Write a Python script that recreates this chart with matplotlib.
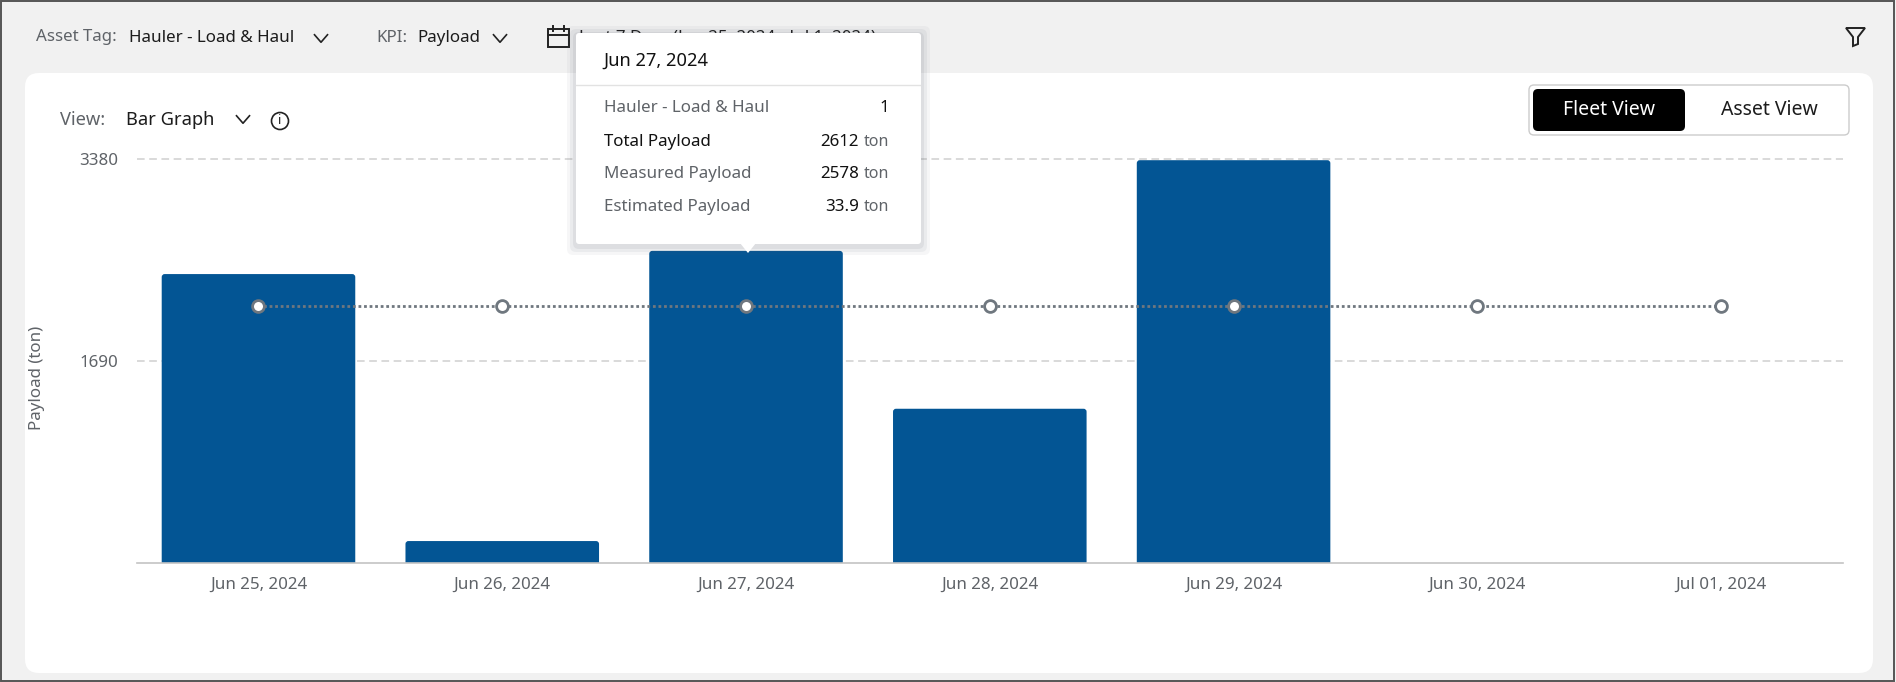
#!/usr/bin/env python3

import matplotlib
matplotlib.use('Agg')
import matplotlib.pyplot as plt
from matplotlib.patches import FancyBboxPatch, Rectangle, Circle, Polygon, PathPatch
from matplotlib.path import Path

W, H = 1896, 682

dates = ['Jun 25, 2024', 'Jun 26, 2024', 'Jun 27, 2024', 'Jun 28, 2024',
         'Jun 29, 2024', 'Jun 30, 2024', 'Jul 01, 2024']
payload = [2418, 186, 2612, 1292, 3370, 0, 0]
average = [2150, 2150, 2150, 2150, 2150, 2150, 2150]
y_ticks = [1690, 3380]

tip_title = 'Jun 27, 2024'
tip_labels = ['Hauler - Load & Haul', 'Total Payload', 'Measured Payload', 'Estimated Payload']
tip_values = ['1', '2612', '2578', '33.9']
tip_units = ['', 'ton', 'ton', 'ton']

plt.rcParams['font.family'] = ['Noto Sans', 'DejaVu Sans']

GREY = '#5f6368'
DARK = '#1c1c1c'
BLUE = '#035594'

fig = plt.figure(figsize=(W / 100, H / 100), dpi=100, facecolor='#f1f1f1')


def pixel_axes(z):
    a = fig.add_axes([0, 0, 1, 1], zorder=z)
    a.set_xlim(0, W)
    a.set_ylim(H, 0)
    a.axis('off')
    a.patch.set_alpha(0)
    return a


def rbox(a, x0, y0, x1, y1, r, **kw):
    a.add_patch(FancyBboxPatch((x0 + r, y0 + r), x1 - x0 - 2 * r, y1 - y0 - 2 * r,
                               boxstyle='round,pad=%f,rounding_size=%f' % (r, r), **kw))


def chevron(a, x, y, s=6.5):
    a.plot([x - s, x, x + s], [y - s / 2, y + s / 2 + 1, y - s / 2], c='#222222', lw=1.2)


bg = pixel_axes(0)
front = pixel_axes(2)

# outer frame and card
bg.add_patch(Rectangle((0.5, 1), W - 2.5, H - 2.5, fc='none', ec='#555555', lw=1.4))
rbox(bg, 25, 73, 1873, 673, 14, fc='white', ec='none')

# filter bar
bg.text(36, 37, 'Asset Tag:', fontsize=12.2, color=GREY, va='center')
bg.text(129, 38, 'Hauler - Load & Haul', fontsize=12.2, color=DARK, va='center')
chevron(bg, 321, 38)
bg.text(376, 38, 'KPI:', fontsize=12.2, color=GREY, va='center')
bg.text(417, 38, 'Payload', fontsize=12.2, color=DARK, va='center')
chevron(bg, 500, 38)
bg.add_patch(Rectangle((548, 29), 21, 18, fc='none', ec='#222222', lw=1.4))
bg.plot([548, 569], [35, 35], c='#222222', lw=1.4)
bg.plot([553, 553], [26, 31], c='#222222', lw=1.4)
bg.plot([564, 564], [26, 31], c='#222222', lw=1.4)
bg.text(579, 38, 'Last 7 Days (Jun 25, 2024 - Jul 1, 2024)', fontsize=12.2, color=DARK, va='center')

# funnel icon
bg.add_patch(Polygon([(1846, 28), (1865, 28), (1858, 37), (1858, 44), (1853, 46), (1853, 37)],
                     closed=True, fc='none', ec='#222222', lw=1.4))

# view selector
bg.text(60, 120, 'View:', fontsize=13.2, color=GREY, va='center')
bg.text(126, 120, 'Bar Graph', fontsize=13.2, color=DARK, va='center')
chevron(bg, 243, 119)
bg.add_patch(Circle((280, 121), 8.5, fc='none', ec='#222222', lw=1.2))
bg.text(280, 121, 'i', fontsize=9.5, color='#222222', ha='center', va='center')

# fleet / asset toggle
rbox(bg, 1529, 85, 1849, 135, 5, fc='white', ec='#cccccc', lw=1)
rbox(bg, 1533, 89, 1685, 131, 5, fc='black', ec='none')
bg.text(1609, 110, 'Fleet View', fontsize=14, color='white', weight='bold', ha='center', va='center')
bg.text(1769, 110, 'Asset View', fontsize=14, color=DARK, ha='center', va='center')

# chart
left, right, top, bottom = 136.6, 1843, 159, 563.3
ax = fig.add_axes([left / W, 1 - bottom / H, (right - left) / W, (bottom - top) / H], zorder=1)
ax.patch.set_alpha(0)
ax.set_xlim(-0.5, 6.5)
ax.set_ylim(0, 3380)
xs = list(range(len(dates)))

ax.grid(axis='y', color='#cfcfcf', linestyle=(0, (5, 3)), lw=1.1, clip_on=False)
ax.set_axisbelow(True)

# bars with slightly rounded top corners
bars = ax.bar(xs, payload, width=0.794, color=BLUE)
rx = 3 / (right - left) * 7
ry = 3 / (bottom - top) * 3380
for b in bars:
    h = b.get_height()
    if h <= 0:
        continue
    x0, x1 = b.get_x(), b.get_x() + b.get_width()
    b.set_visible(False)
    verts = [(x0, 0), (x0, h - ry), (x0, h), (x0 + rx, h), (x1 - rx, h), (x1, h), (x1, h - ry), (x1, 0), (x0, 0)]
    codes = [Path.MOVETO, Path.LINETO, Path.CURVE3, Path.CURVE3, Path.LINETO,
             Path.CURVE3, Path.CURVE3, Path.LINETO, Path.CLOSEPOLY]
    ax.add_patch(PathPatch(Path(verts, codes), fc=BLUE, ec='none', zorder=2))

ax.plot(xs, average, color='#6f777f', lw=2, linestyle=(0, (1, 1)), zorder=3,
        marker='o', ms=8.5, mfc='white', mec='#6f777f', mew=2)

for s in ['top', 'right', 'left']:
    ax.spines[s].set_visible(False)
ax.spines['bottom'].set_color('#c4c4c4')
ax.spines['bottom'].set_linewidth(1.2)
ax.set_xticks(xs)
ax.set_xticklabels(dates, fontsize=12.2, color=GREY)
ax.set_yticks(y_ticks)
ax.set_yticklabels([str(v) for v in y_ticks], fontsize=12.2, color=GREY)
ax.tick_params(axis='both', length=0)
ax.tick_params(axis='x', pad=10)
ax.tick_params(axis='y', pad=13)
ax.set_ylabel('Payload (ton)', fontsize=12.2, color=GREY)
ax.yaxis.set_label_coords((45 - left) / (right - left), (bottom - 378) / (bottom - top))

# tooltip
for i, alpha in zip([9, 6, 3], [0.05, 0.07, 0.09]):
    rbox(front, 576 - i, 33 - i + 2, 921 + i, 244 + i + 2, 6, fc='#5a6270', ec='none', alpha=alpha)
front.add_patch(Polygon([(740, 243), (756, 243), (748, 253)], closed=True, fc='white', ec='none', zorder=3))
rbox(front, 576, 33, 921, 244, 3, fc='white', ec='none', zorder=3)
front.plot([576, 920], [85, 85], c='#e2e2e2', lw=1, zorder=4)
front.text(603, 61, tip_title, fontsize=13.2, color='#111111', weight='semibold', va='center', zorder=5)
rows_y = [108, 141.5, 174.5, 207]
for y, lab, val, unit in zip(rows_y, tip_labels, tip_values, tip_units):
    bold = lab == 'Total Payload'
    front.text(604, y, lab, fontsize=12.2, color='#111111' if bold else GREY,
               weight='semibold' if bold else 'normal', va='center', zorder=5)
    if unit:
        front.text(889, y, unit, fontsize=11.5, color=GREY, ha='right', va='center', zorder=5)
        front.text(859, y, val, fontsize=12.2, color='#111111', weight='semibold', ha='right', va='center', zorder=5)
    else:
        front.text(889, y, val, fontsize=12.2, color='#111111', weight='semibold', ha='right', va='center', zorder=5)

fig.savefig('out.png', dpi=100)
